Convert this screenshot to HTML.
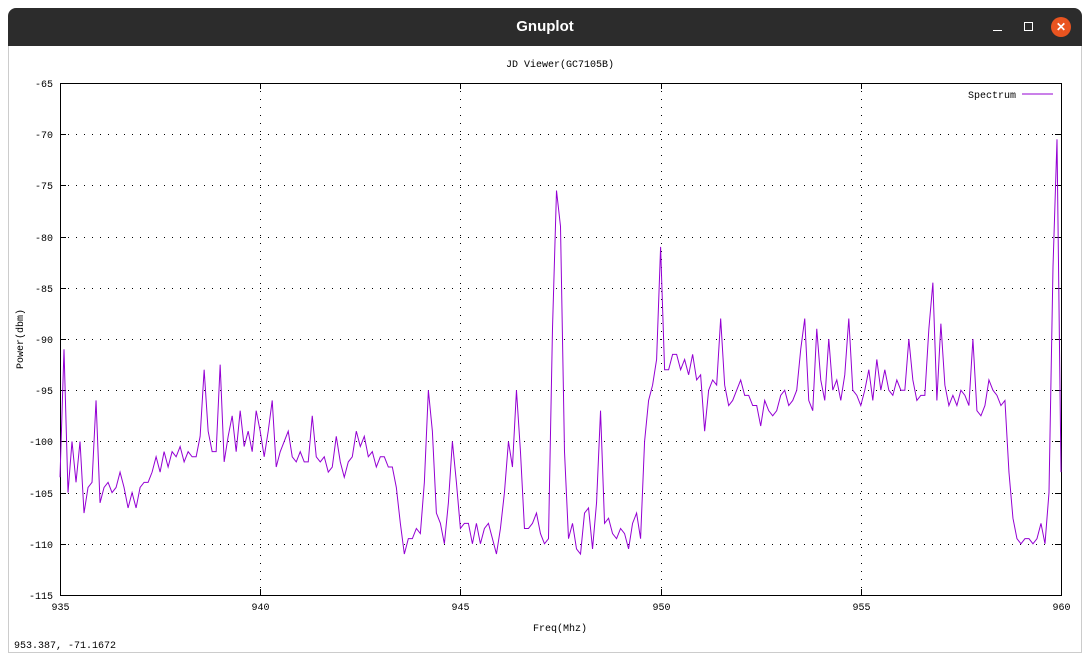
<!DOCTYPE html>
<html><head><meta charset="utf-8"><style>
body{margin:0;width:1090px;height:660px;overflow:hidden;background:#fff;font-family:"Liberation Mono",monospace}
#win{position:absolute;left:0;top:0;width:1090px;height:660px;background:#fff}
#bar{position:absolute;left:8px;top:8px;width:1074px;height:38px;background:#2c2c2c;border-radius:8px 8px 0 0}
#bar .t{position:absolute;left:0;width:100%;top:10px;text-align:center;color:#fff;font:bold 15px "Liberation Sans",sans-serif}
#frame{position:absolute;left:8px;top:46px;width:1072px;height:606px;border:1px solid #ccc;border-top:none}
</style></head><body>
<div id="win">
<div id="bar">
<div class="t">Gnuplot</div>
<div style="position:absolute;left:985px;top:22px;width:9px;height:1px;background:#fff"></div>
<div style="position:absolute;left:1016px;top:14px;width:7px;height:7px;border:1px solid #fff"></div>
<div style="position:absolute;left:1043px;top:9px;width:20px;height:20px;border-radius:50%;background:#e95420;color:#fff;font:bold 12px 'Liberation Sans',sans-serif;text-align:center;line-height:20px">✕</div>
</div>
<div id="frame"></div>
<svg id="chart" width="1090" height="660" style="position:absolute;left:0;top:0"></svg>
</div>
<script>
const xTicks=[935,940,945,950,955,960];
const yTicks=[-65,-70,-75,-80,-85,-90,-95,-100,-105,-110,-115];
const freqStart=935, freqStep=0.1;
const power=[
-103.5,-91,-105,-100,-104,-100,-107,-104.5,-104,-96,
-106,-104.5,-104,-105,-104.5,-103,-104.5,-106.5,-105,-106.5,
-104.5,-104,-104,-103,-101.5,-103,-101,-102.5,-101,-101.5,
-100.5,-102,-101,-101.5,-101.5,-99.5,-93,-99,-101,-101,
-92.5,-102,-99.5,-97.5,-101,-97,-100.5,-99,-101,-97,
-99,-101.5,-99,-96,-102.5,-101,-100,-99,-101.5,-102,
-101,-102,-102,-97.5,-101.5,-102,-101.5,-103,-102.5,-99.5,
-102,-103.5,-102,-101.5,-99,-100.5,-99.5,-101.5,-101,-102.5,
-101.5,-101.5,-102.5,-102.5,-104.5,-108,-111,-109.5,-109.5,-108.5,
-109,-104,-95,-99,-107,-108,-110,-106,-100,-104,
-108.5,-108,-108,-110,-108,-110,-108.5,-108,-109.5,-111,
-108.5,-105,-100,-102.5,-95,-101,-108.5,-108.5,-108,-107,
-109,-110,-109.5,-89,-75.5,-79,-101,-109.5,-108,-110.5,
-111,-107,-106.5,-110.5,-106,-97,-108,-107.5,-109,-109.5,
-108.5,-109,-110.5,-108,-107,-109.5,-100,-96,-94.5,-92,
-81,-93,-93,-91.5,-91.5,-93,-92,-93.5,-91.5,-94,
-93.5,-99,-95,-94,-94.5,-88,-94.5,-96.5,-96,-95,
-94,-95.5,-95.5,-96.5,-96.5,-98.5,-96,-97,-97.5,-97,
-95.5,-95,-96.5,-96,-95,-91,-88,-96,-97,-89,
-94,-96,-90,-95,-94,-96,-93.5,-88,-95,-95.5,
-96.5,-95,-93,-96,-92,-95,-93,-95,-95.5,-94,
-95,-95,-90,-94,-96,-95.5,-95.5,-89,-84.5,-96,
-88.5,-94.5,-96.5,-95.5,-96.5,-95,-95.5,-96.5,-90,-97,
-97.5,-96.5,-94,-95,-95.5,-96.5,-96,-103,-107.5,-109.5,
-110,-109.5,-109.5,-110,-109.5,-108,-110,-105,-83,-70.5,
-103];
const L=60,R=1061,T=83,B=595;
const xS=f=>L+(f-935)/(960-935)*(R-L);
const yS=v=>T+(-65-v)/(-65+115)*(B-T);
const svg=document.getElementById('chart');
const NS='http://www.w3.org/2000/svg';
function mk(tag,attrs,text){const e=document.createElementNS(NS,tag);for(const k in attrs)e.setAttribute(k,attrs[k]);if(text!==undefined)e.textContent=text;svg.appendChild(e);return e;}
const fs={'font-family':'Liberation Mono, monospace','font-size':'10','fill':'#000'};
yTicks.forEach(v=>{
  const y=Math.round(yS(v))+0.5;
  if(v<-65&&v>-115){const g=mk('line',{x1:L,x2:R,y1:y,y2:y,stroke:'#000','stroke-width':1,'stroke-dasharray':'1,7','shape-rendering':'crispEdges'});
  
  }
  mk('line',{x1:L,x2:L+6,y1:y,y2:y,stroke:'#000','shape-rendering':'crispEdges'});mk('line',{x1:R-6,x2:R,y1:y,y2:y,stroke:'#000','shape-rendering':'crispEdges'});
  const t=mk('text',Object.assign({x:L-7,y:y+3.5,'text-anchor':'end'},fs),String(v));
  
  
});
xTicks.forEach(f=>{
  const x=Math.round(xS(f))+0.5;
  if(f>935&&f<960){const g=mk('line',{x1:x,x2:x,y1:T,y2:B,stroke:'#000','stroke-width':1,'stroke-dasharray':'1,7','shape-rendering':'crispEdges'});
  
  }
  mk('line',{x1:x,x2:x,y1:B-6,y2:B,stroke:'#000','shape-rendering':'crispEdges'});mk('line',{x1:x,x2:x,y1:T,y2:T+6,stroke:'#000','shape-rendering':'crispEdges'});
  const t=mk('text',Object.assign({x:x,y:B+15,'text-anchor':'middle'},fs),String(f));
  
  
});
const border=mk('rect',{x:L+0.5,y:T+0.5,width:R-L,height:B-T,fill:'none',stroke:'#000','stroke-width':1,'shape-rendering':'crispEdges'});


const pts=power.map((v,i)=>xS(freqStart+i*freqStep).toFixed(2)+','+yS(v).toFixed(2)).join(' ');
const line=mk('polyline',{points:pts,fill:'none',stroke:'#9400d3','stroke-width':1});


const title=mk('text',Object.assign({x:560,y:67,'text-anchor':'middle'},fs),'JD Viewer(GC7105B)');


const xl=mk('text',Object.assign({x:560,y:631,'text-anchor':'middle'},fs),'Freq(Mhz)');


const yl=mk('text',Object.assign({x:0,y:0,'text-anchor':'middle',transform:'translate(23,339) rotate(-90)'},fs),'Power(dbm)');


const lt=mk('text',Object.assign({x:1016,y:98,'text-anchor':'end'},fs),'Spectrum');


const ll=mk('line',{x1:1022,x2:1053,y1:94,y2:94,stroke:'#9400d3','stroke-width':1});


const st=mk('text',Object.assign({x:14,y:648},fs),'953.387, -71.1672');


</script>
</body></html>
